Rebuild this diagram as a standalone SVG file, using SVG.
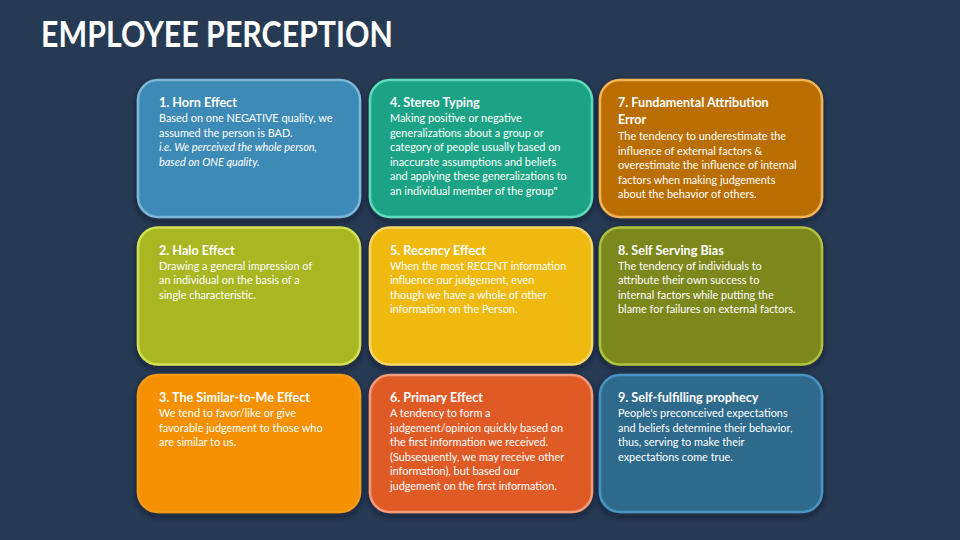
<svg xmlns="http://www.w3.org/2000/svg" width="960" height="540" viewBox="0 0 960 540">
<defs>
<filter id="sh" x="-10%" y="-10%" width="120%" height="130%">
<feDropShadow dx="0" dy="3" stdDeviation="3" flood-color="#0e1826" flood-opacity="0.6"/>
</filter>
</defs>
<style>
.card{stroke-width:2.5;filter:url(#sh)}
.h{font-family:Lato,"Open Sans",sans-serif;font-weight:700;font-size:12.6px;fill:#fff}
.b{font-family:Lato,"Open Sans",sans-serif;font-size:10.9px;fill:#fff}
.i{font-style:italic}
.title{font-family:Lato,"Open Sans",sans-serif;font-weight:700;font-size:36px;fill:#fff}
</style>
<rect width="960" height="540" fill="#263a53"/>
<text class="title" x="41" y="47" textLength="352" lengthAdjust="spacingAndGlyphs">EMPLOYEE PERCEPTION</text>

<g id="n1">
<rect class="card" x="138" y="80" width="222" height="137" rx="20" fill="#3e8ab6" stroke="#7db6d8"/>
<text class="h" x="159" y="107">1. Horn Effect</text>
<text class="b" x="159" y="122">Based on one NEGATIVE quality, we</text>
<text class="b" x="159" y="136.5">assumed the person is BAD.</text>
<text class="b i" x="159" y="151">i.e. We perceived the whole person,</text>
<text class="b i" x="159" y="165.5">based on ONE quality.</text>
</g>

<g id="n4">
<rect class="card" x="370" y="80" width="222" height="137" rx="20" fill="#1fa385" stroke="#5fdcbd"/>
<text class="h" x="390" y="107">4. Stereo Typing</text>
<text class="b" x="390" y="122">Making positive or negative</text>
<text class="b" x="390" y="136.5">generalizations about a group or</text>
<text class="b" x="390" y="151">category of people usually based on</text>
<text class="b" x="390" y="165.5">inaccurate assumptions and beliefs</text>
<text class="b" x="390" y="180">and applying these generalizations to</text>
<text class="b" x="390" y="194.5">an individual member of the group"</text>
</g>

<g id="n7">
<rect class="card" x="600" y="80" width="222" height="137" rx="20" fill="#ba6e00" stroke="#f4b454"/>
<text class="h" x="618" y="107">7. Fundamental Attribution</text>
<text class="h" x="618" y="124">Error</text>
<text class="b" x="618" y="140">The tendency to underestimate the</text>
<text class="b" x="618" y="154.5">influence of external factors &amp;</text>
<text class="b" x="618" y="169">overestimate the influence of internal</text>
<text class="b" x="618" y="183.5">factors when making judgements</text>
<text class="b" x="618" y="198">about the behavior of others.</text>
</g>

<g id="n2">
<rect class="card" x="138" y="227.5" width="222" height="137" rx="20" fill="#a9b824" stroke="#d3e052"/>
<text class="h" x="159" y="254.5">2. Halo Effect</text>
<text class="b" x="159" y="269.5">Drawing a general impression of</text>
<text class="b" x="159" y="284">an individual on the basis of a</text>
<text class="b" x="159" y="298.5">single characteristic.</text>
</g>

<g id="n5">
<rect class="card" x="370" y="227.5" width="222" height="137" rx="20" fill="#efba0e" stroke="#f8d66a"/>
<text class="h" x="390" y="254.5">5. Recency Effect</text>
<text class="b" x="390" y="269.5">When the most RECENT information</text>
<text class="b" x="390" y="284">influence our judgement, even</text>
<text class="b" x="390" y="298.5">though we have a whole of other</text>
<text class="b" x="390" y="313">information on the Person.</text>
</g>

<g id="n8">
<rect class="card" x="600" y="227.5" width="222" height="137" rx="20" fill="#7b881b" stroke="#b0c13a"/>
<text class="h" x="618" y="254.5">8. Self Serving Bias</text>
<text class="b" x="618" y="269.5">The tendency of individuals to</text>
<text class="b" x="618" y="284">attribute their own success to</text>
<text class="b" x="618" y="298.5">internal factors while putting the</text>
<text class="b" x="618" y="313">blame for failures on external factors.</text>
</g>

<g id="n3">
<rect class="card" x="138" y="375" width="222" height="137" rx="20" fill="#f59100" stroke="#f59a18"/>
<text class="h" x="159" y="402">3. The Similar-to-Me Effect</text>
<text class="b" x="159" y="417">We tend to favor/like or give</text>
<text class="b" x="159" y="431.5">favorable judgement to those who</text>
<text class="b" x="159" y="446">are similar to us.</text>
</g>

<g id="n6">
<rect class="card" x="370" y="375" width="222" height="137" rx="20" fill="#e05a25" stroke="#f39c7c"/>
<text class="h" x="390" y="402">6. Primary Effect</text>
<text class="b" x="390" y="417">A tendency to form a</text>
<text class="b" x="390" y="431.5">judgement/opinion quickly based on</text>
<text class="b" x="390" y="446">the first information we received.</text>
<text class="b" x="390" y="460.5">(Subsequently, we may receive other</text>
<text class="b" x="390" y="475">information), but based our</text>
<text class="b" x="390" y="489.5">judgement on the first information.</text>
</g>

<g id="n9">
<rect class="card" x="600" y="375" width="222" height="137" rx="20" fill="#2f6a8c" stroke="#4994c2"/>
<text class="h" x="618" y="402">9. Self-fulfilling prophecy</text>
<text class="b" x="618" y="417">People's preconceived expectations</text>
<text class="b" x="618" y="431.5">and beliefs determine their behavior,</text>
<text class="b" x="618" y="446">thus, serving to make their</text>
<text class="b" x="618" y="460.5">expectations come true.</text>
</g>

<g id="connectors"/>
</svg>
